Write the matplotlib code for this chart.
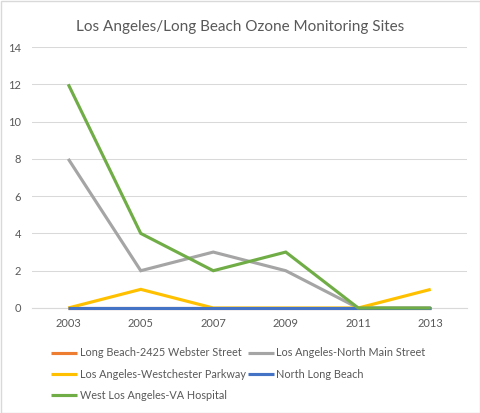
import numpy as np
import matplotlib.pyplot as plt
from matplotlib.patches import Rectangle

plt.rcParams["font.family"] = ["Lato", "DejaVu Sans"]

years = ["2003", "2005", "2007", "2009", "2011", "2013"]
webster = [0, 0, 0, 0, 0, 0]
north_main = [8, 2, 3, 2, 0, 0]
westchester = [0, 1, 0, 0, 0, 1]
north_lb = [0, 0, 0, 0, 0, 0]
west_la_va = [12, 4, 2, 3, 0, 0]

series = [
    ("Long Beach-2425 Webster Street", webster, "#ED7D31"),
    ("Los Angeles-North Main Street", north_main, "#A5A5A5"),
    ("Los Angeles-Westchester Parkway", westchester, "#FFC000"),
    ("North Long Beach", north_lb, "#4472C4"),
    ("West Los Angeles-VA Hospital", west_la_va, "#70AD47"),
]

W, H = 481, 413
fig = plt.figure(figsize=(W / 100, H / 100), dpi=100)
fig.patches.append(Rectangle((0.5 / W, 0.5 / H), 1 - 1.5 / W, 1 - 1.5 / H,
                             transform=fig.transFigure, fill=False,
                             edgecolor="#d9d9d9", linewidth=1))

ax = fig.add_axes([32 / W, (H - 308) / H, 435 / W, 261 / H])
x = np.arange(len(years))
lines = []
for name, vals, col in series:
    ln, = ax.plot(x, vals, color=col, linewidth=2.25, label=name,
                  solid_capstyle="butt", solid_joinstyle="miter",
                  clip_on=False)
    lines.append(ln)

ax.set_xlim(-0.5, len(years) - 0.5)
ax.set_ylim(0, 14)
ax.set_yticks(np.arange(0, 15, 2))
ax.set_xticks(x)
ax.set_xticklabels(years)
ax.grid(axis="y", color="#d9d9d9", linewidth=0.75)
ax.set_axisbelow(True)
for s in ["top", "right", "left"]:
    ax.spines[s].set_visible(False)
ax.spines["bottom"].set_color("#d9d9d9")
ax.spines["bottom"].set_zorder(0)
ax.tick_params(length=0, colors="#595959", labelsize=8)
ax.tick_params(axis="y", pad=8)
ax.tick_params(axis="x", pad=7)

fig.text(0.5, (H - 27) / H, "Los Angeles/Long Beach Ozone Monitoring Sites",
         ha="center", va="center", fontsize=11, color="#595959")

# row-major order for a 2-column legend
order = [0, 2, 4, 1, 3]
leg = fig.legend([lines[i] for i in order], [series[i][0] for i in order],
                 loc="upper left", bbox_to_anchor=(46 / W, (H - 342) / H),
                 ncol=2, frameon=False, fontsize=7.8, handlelength=2.4,
                 handletextpad=0.25, columnspacing=0.15, labelspacing=0.95,
                 borderpad=0)
for t in leg.get_texts():
    t.set_color("#595959")

fig.savefig("out.png", dpi=100)
